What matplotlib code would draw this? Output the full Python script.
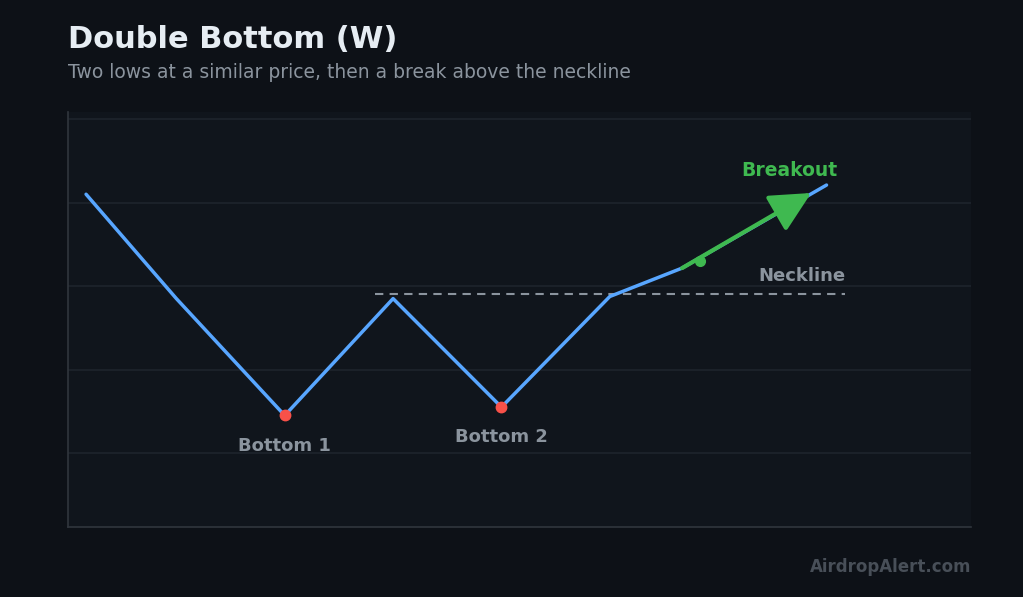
import matplotlib
matplotlib.use("Agg")
import matplotlib.pyplot as plt

plt.rcParams["font.family"] = ["DejaVu Sans"]

# Data
price_x = [2, 12, 24, 36, 48, 60, 68, 84]
price_y = [82, 57, 29, 57, 31, 57.5, 64.3, 84.2]
bottoms_x = [24, 48]
bottoms_y = [29, 31]
bottom_labels = ["Bottom 1", "Bottom 2"]
neckline_x = [34, 86]
neckline_y = [58, 58]
breakout_start = (68, 64.3)
breakout_end = (82.3, 82.3)
breakout_dot = (70, 66)
grid_ticks = [20, 40, 60, 80, 100]

BG = "#0d1117"
AX_BG = "#10151c"
GRID = "#1e242c"
SPINE = "#30363d"
BLUE = "#58a6ff"
RED = "#f85149"
GREEN = "#3fb950"
GRAY = "#8b949e"

fig = plt.figure(figsize=(10.23, 5.97), dpi=100, facecolor=BG)
ax = fig.add_axes([68/1023, 1-527/597, (971-68)/1023, (527-112)/597])
ax.set_facecolor(AX_BG)
ax.set_xlim(0, 100)
ax.set_ylim(2.28, 101.7)
ax.set_yticks(grid_ticks)
ax.set_xticks([])
ax.tick_params(left=False, labelleft=False, bottom=False, labelbottom=False)
ax.grid(axis="y", color=GRID, lw=1.2)
ax.set_axisbelow(True)
for s in ["top", "right"]:
    ax.spines[s].set_visible(False)
for s in ["left", "bottom"]:
    ax.spines[s].set_color(SPINE)
    ax.spines[s].set_linewidth(1.2)

ax.plot(price_x, price_y, color=BLUE, lw=2.5, zorder=3, solid_capstyle="round")
ax.plot(neckline_x, neckline_y, color=GRAY, lw=1.5, ls=(0, (4, 3)), zorder=2)
ax.plot(bottoms_x, bottoms_y, "o", color=RED, ms=7.5, zorder=5)
for bx, by, lab in zip(bottoms_x, bottoms_y, bottom_labels):
    ax.text(bx, by - 7.2, lab, color=GRAY, fontsize=13, fontweight="bold",
            ha="center", va="center")

ax.annotate("", xy=breakout_end, xytext=breakout_start,
            arrowprops=dict(arrowstyle="-|>,head_length=1.0,head_width=0.5",
                            color=GREEN, lw=3, mutation_scale=25,
                            shrinkA=0, shrinkB=0), zorder=4)
ax.plot([breakout_dot[0]], [breakout_dot[1]], "o", color=GREEN, ms=7, zorder=6)
ax.text(79.9, 87.8, "Breakout", color=GREEN, fontsize=13.5, fontweight="bold",
        ha="center", va="center")
ax.text(81.3, 62.4, "Neckline", color=GRAY, fontsize=13, fontweight="bold",
        ha="center", va="center")

fig.text(68/1023, 1-39/597, "Double Bottom (W)", color="#e6edf3", fontsize=22,
         fontweight="bold", ha="left", va="center")
fig.text(68/1023, 1-72/597, "Two lows at a similar price, then a break above the neckline",
         color=GRAY, fontsize=13.5, ha="left", va="center")
fig.text(971/1023, 1-567/597, "AirdropAlert.com", color="#484f58", fontsize=12,
         fontweight="bold", ha="right", va="center")

fig.savefig("out.png", dpi=100, facecolor=BG)
